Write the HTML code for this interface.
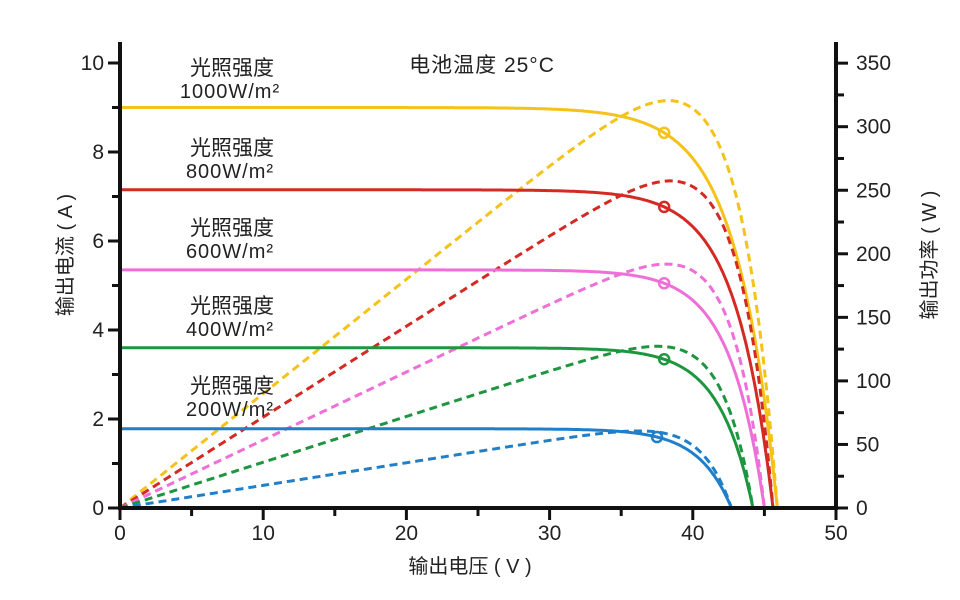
<!DOCTYPE html>
<html><head><meta charset="utf-8"><style>
body{margin:0;background:#fff;}
svg{display:block;font-family:"Liberation Sans","Noto Sans CJK SC",sans-serif;}
</style></head><body>
<svg id="s" width="960" height="600" viewBox="0 0 960 600" xmlns="http://www.w3.org/2000/svg">
<g id="g"></g>
<g stroke="#111" stroke-width="4" fill="none">
<line x1="120" y1="42" x2="120" y2="510"/>
<line x1="118" y1="508" x2="838" y2="508"/>
<line x1="836" y1="42" x2="836" y2="510"/>
</g>
<g id="ticks" stroke="#111" stroke-width="3"></g>
<g font-size="21" fill="#222" id="lab"></g>
<text x="482" y="72" font-size="21" text-anchor="middle" fill="#222" letter-spacing="1">电池温度 25°C</text>
<text transform="translate(72,255) rotate(-90)" font-size="20" text-anchor="middle" fill="#222">输出电流 ( A )</text>
<text transform="translate(936,255) rotate(-90)" font-size="20" text-anchor="middle" fill="#222">输出功率 ( W )</text>
<text x="470" y="573" font-size="20" text-anchor="middle" fill="#222">输出电压 ( V )</text>
</svg>
<script>
const NS="http://www.w3.org/2000/svg";
const X=v=>120+v*14.32, YI=i=>508-i*44.5, YP=p=>508-p*1.271;
function el(t,a,p){const e=document.createElementNS(NS,t);for(const k in a)e.setAttribute(k,a[k]);if(p)p.appendChild(e);return e;}
const g=document.getElementById('g'),tk=document.getElementById('ticks'),lab=document.getElementById('lab');
for(let i=0;i<=10;i++){const y=YI(i);el('line',{x1:i%2?112:108,y1:y,x2:120,y2:y},tk);
 if(i%2==0){const t=el('text',{x:104,y:y+7,'text-anchor':'end'},lab);t.textContent=i;}}
for(let v=0;v<=50;v+=5){const x=X(v);el('line',{x1:x,y1:508,x2:x,y2:v%10?516:520},tk);
 if(v%10==0){const t=el('text',{x:x,y:540,'text-anchor':'middle'},lab);t.textContent=v;}}
for(let p=0;p<=350;p+=25){const y=YP(p);el('line',{x1:836,y1:y,x2:p%50?844:848,y2:y},tk);
 if(p%50==0){const t=el('text',{x:856,y:y+7},lab);t.textContent=p;}}
const C=[[9,45.9,2.86,'#f5c21a',75],[7.15,45.6,2.6,'#d42a23',155],[5.35,45.0,2.43,'#ef6fd8',235],[3.6,44.2,2.35,'#1e9640',313],[1.78,42.7,2.3,'#1f7fc8',393]];
const names=['1000','800','600','400','200'];
C.forEach(([isc,voc,vt,col,ly],k)=>{
 const I=v=>Math.max(0,isc*(1-(Math.exp(v/vt)-1)/(Math.exp(voc/vt)-1)));
 let a='',b='';
 for(let v=0;v<=voc+0.001;v+=0.1){const vv=Math.min(v,voc);a+=(v?'L':'M')+X(vv).toFixed(1)+' '+YI(I(vv)).toFixed(1);b+=(v?'L':'M')+X(vv).toFixed(1)+' '+YP(vv*I(vv)).toFixed(1);}
 el('path',{d:b,stroke:col,'stroke-width':3,fill:'none','stroke-dasharray':'8 5'},g);
 el('path',{d:a,stroke:col,'stroke-width':3,fill:'none'},g);
 const mv=k==4?37.5:38;
 el('circle',{cx:X(mv),cy:YI(I(mv)),r:5,stroke:col,'stroke-width':2.5,fill:'none'},g);
 let t=el('text',{x:232,y:ly,'text-anchor':'middle','font-size':21},lab);t.textContent='光照强度';
 t=el('text',{x:230,y:ly+23,'text-anchor':'middle','font-size':20,'letter-spacing':1},lab);t.textContent=names[k]+'W/m²';
});
</script>
</body></html>
